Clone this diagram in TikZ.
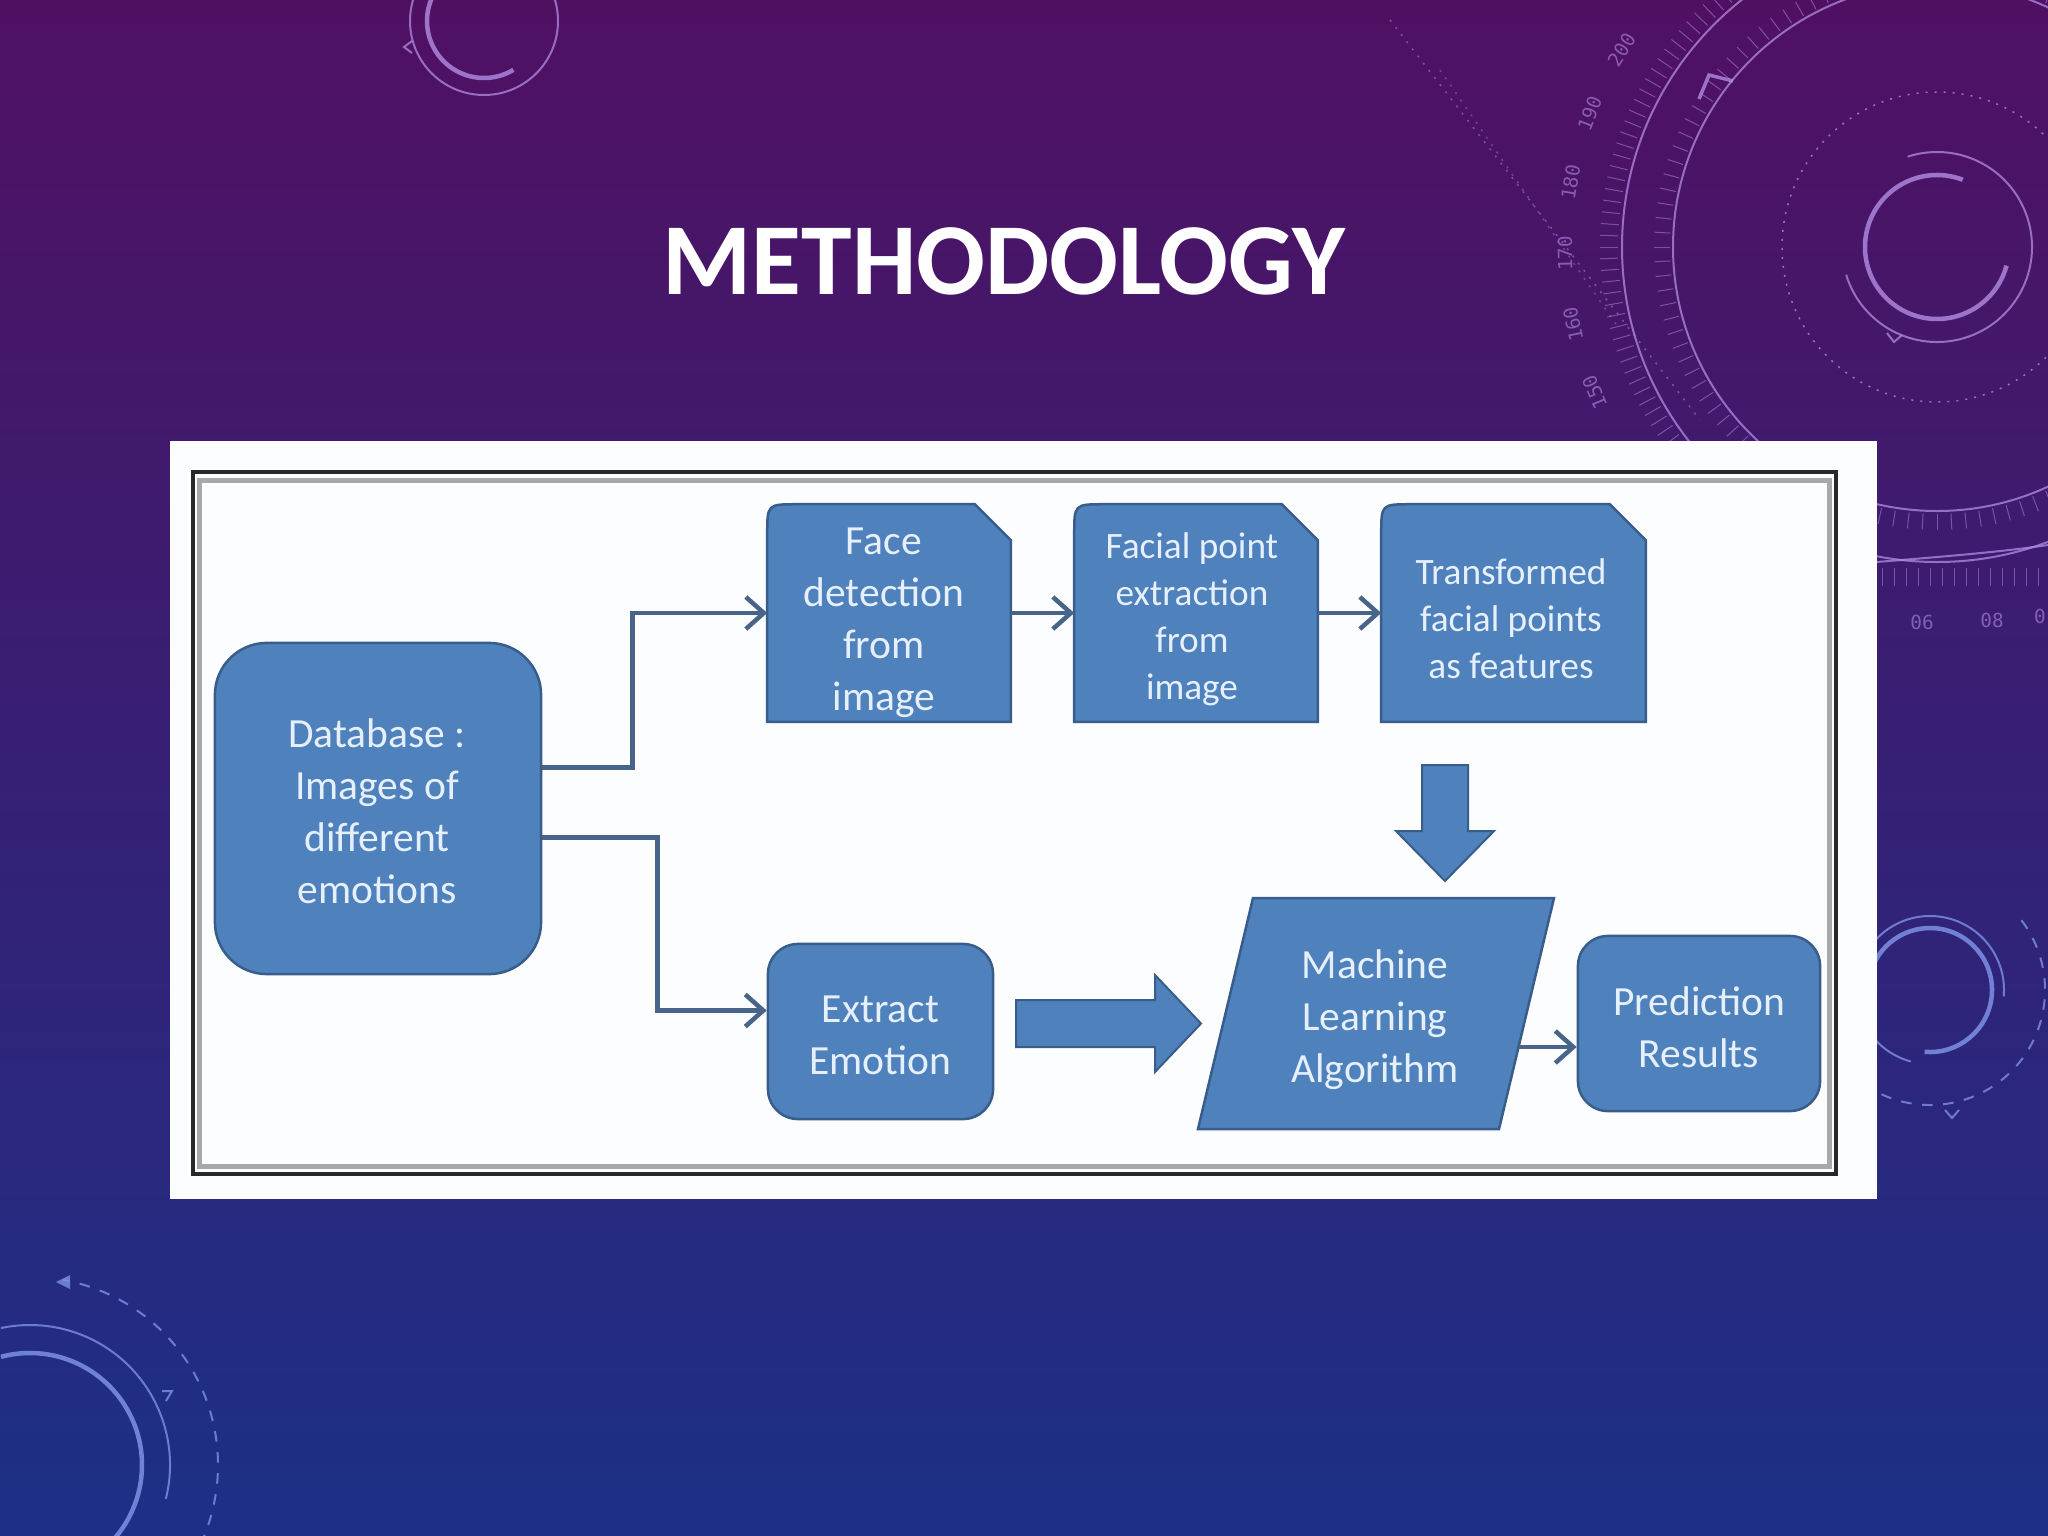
\documentclass[tikz,border=0pt]{standalone}
\usepackage{fontspec}
\setmainfont{Carlito}
\newfontfamily\numfont{DejaVu Sans Mono}
\usetikzlibrary{arrows.meta,calc}

\definecolor{bgA}{RGB}{80,16,98}
\definecolor{bgB}{RGB}{54,28,112}
\definecolor{bgC}{RGB}{28,48,135}
\definecolor{boxfill}{RGB}{79,129,189}
\definecolor{boxline}{RGB}{56,93,138}
\definecolor{boxtext}{RGB}{230,239,252}
\definecolor{conncol}{RGB}{72,100,136}
\definecolor{deco}{RGB}{178,140,228}
\definecolor{decob}{RGB}{125,145,230}
\definecolor{frameA}{RGB}{40,40,40}
\definecolor{frameB}{RGB}{165,168,172}
\definecolor{panel}{RGB}{252,253,255}

\newcommand\snipbox[1]{%
  \draw[box] (#1.south west) -- (#1.south east) -- ($(#1.north east)+(0,36)$)
    -- ($(#1.north east)+(-36,0)$) -- ($(#1.north west)+(30,0)$)
    .. controls (#1.north west) .. ($(#1.north west)+(0,30)$) -- cycle;}

\begin{document}
\begin{tikzpicture}[x=0.01cm,y=-0.01cm,
  box/.style={fill=boxfill, draw=boxline, line width=0.025cm},
  boxtxt/.style={text=boxtext, align=center, font=\fontsize{11.8}{14.8}\selectfont, inner sep=0pt},
  smalltxt/.style={text=boxtext, align=center, font=\fontsize{10.6}{13.4}\selectfont, inner sep=0pt},
  holder/.style={inner sep=0pt, minimum height=2.16cm},
  conn/.style={draw=conncol, line width=0.045cm, -{Straight Barb[length=0.18cm,width=0.32cm]}},
  blockarrow/.style={fill=boxfill, draw=boxline, line width=0.02cm},
  decoline/.style={draw=deco, line width=0.02cm, opacity=0.75},
  decothick/.style={draw=deco, line width=0.045cm, opacity=0.8},
  decobl/.style={draw=decob, line width=0.02cm, opacity=0.8},
  decobthick/.style={draw=decob, line width=0.045cm, opacity=0.85},
  numtxt/.style={text=deco, opacity=0.6, font=\numfont\fontsize{5.5}{6}\selectfont, inner sep=0pt},
]
\useasboundingbox (0,0) rectangle (2048,1536);
\clip (0,0) rectangle (2048,1536);
\shade[top color=bgA, middle color=bgB, bottom color=bgC] (0,0) rectangle (2048,1536);

% ---- decorations: top right dial
\begin{scope}[shift={(1937,247)}, yscale=-1]
  \draw[decoline] (0,0) circle[radius=315];
  \draw[decoline] (0,0) circle[radius=264];
  \foreach \a in {0,3,...,357} \draw[decoline, line width=0.01cm, opacity=0.5] (\a:267) -- (\a:283);
  \foreach \a in {126,128,...,232} \draw[decoline, line width=0.01cm, opacity=0.5] (\a:319) -- (\a:337);
  \foreach \n/\a in {150/203,160/192,170/181,180/170,190/159,200/148}
    \node[numtxt, rotate=\a-90] (num\n) at (\a:372) {\n};
  \draw[decoline, dotted, line width=0.015cm] (0,0) circle[radius=155];
  \draw[decothick] (69:72) arc[start angle=69, end angle=345, radius=72];
  \draw[decoline] (-163:95) arc[start angle=-163, end angle=108, radius=95];
  \draw[decothick, line width=0.035cm] (-238,148) -- (-228,172) -- (-204,166);
  \draw[decoline] (-50,-86) -- (-43,-95) -- (-35,-88);
\end{scope}
\draw[decoline, dotted, line width=0.015cm, opacity=0.5] (1390,20) -- (1700,420);
\draw[decoline, dotted, line width=0.015cm, opacity=0.4] (1440,70) -- (1620,330);
% tick ring at right
\draw[decoline] (1877,562) .. controls (1950,556) and (2000,552) .. (2048,545);
\foreach \x in {1882,1894,...,2046} \draw[decoline, line width=0.01cm, opacity=0.5] (\x,568) -- (\x,586);
\node[numtxt] (numA) at (1922,622) {06};
\node[numtxt] (numB) at (1992,620) {08};
\node[numtxt] (numC) at (2040,616) {0};

% ---- top left circle
\begin{scope}[shift={(484,21)}, yscale=-1]
  \draw[decoline] (0,0) circle[radius=74];
  \draw[decothick] (100:57) arc[start angle=100, end angle=301, radius=57];
  \draw[decoline] (-72,-20) -- (-80,-26) -- (-72,-32);
\end{scope}

% ---- right middle circles
\begin{scope}[shift={(1930,990)}, yscale=-1]
  \draw[decobthick] (-95:62) arc[start angle=-95, end angle=160, radius=62];
  \draw[decobl] (-5:74) arc[start angle=-5, end angle=255, radius=74];
  \draw[decobl, dashed] (-115:115) arc[start angle=-115, end angle=40, radius=115];
  \draw[decobl] (15,-120) -- (22,-128) -- (29,-120);
\end{scope}

% ---- bottom left circles
\begin{scope}[shift={(30,1465)}, yscale=-1]
  \draw[decobthick] (-60:112) arc[start angle=-60, end angle=105, radius=112];
  \draw[decobl] (-14:140) arc[start angle=-14, end angle=102, radius=140];
  \draw[decobl, dashed] (-25:188) arc[start angle=-25, end angle=80, radius=188];
  \fill[decob, opacity=0.8] (26,183) -- (40,190) -- (40,176) -- cycle;
  \draw[decobl] (132,74) -- (142,74) -- (136,64);
\end{scope}

% ---- title
\node[text=white, font=\fontsize{29}{34}\selectfont\bfseries, anchor=base, inner sep=0pt] (title) at (1004,294) {METHODOLOGY};

% ---- panel and frame
\fill[panel] (170,441) rectangle (1877,1199);
\draw[frameB, line width=0.05cm] (199,480) rectangle (1829,1166);
\draw[frameA, line width=0.035cm] (193,472) rectangle (1836,1174);

% ---- nodes
\node[box, rounded corners=0.52cm, minimum width=3.26cm, minimum height=3.31cm] (db) at (378,808.5) {};
\node[boxtxt] (dbtxt) at (377,811) {Database :\\Images of\\different\\emotions};

\node[holder, minimum width=2.42cm] (face) at (889,613) {};
\snipbox{face}
\node[boxtxt] (facetxt) at (884,623) {Face\\detection\\from\\image};

\node[holder, minimum width=2.42cm] (facial) at (1196,613) {};
\snipbox{facial}
\node[smalltxt] (facialtxt) at (1192,619) {Facial point\\extraction\\from\\image};

\node[holder, minimum width=2.63cm] (trans) at (1513.5,613) {};
\snipbox{trans}
\node[smalltxt] (transtxt) at (1511,619) {Transformed\\facial points\\as features};

\node[box, rounded corners=0.3cm, minimum width=2.25cm, minimum height=1.75cm] (ex) at (880.5,1031.5) {};
\node[boxtxt] (extxt) at (880.5,1035) {Extract\\Emotion};

\coordinate (mlTL) at (1253,898);
\coordinate (mlTR) at (1554,898);
\coordinate (mlBR) at (1499,1129);
\coordinate (mlBL) at (1198,1129);
\draw[box] (mlTL) -- (mlTR) -- (mlBR) -- (mlBL) -- cycle;
\node[boxtxt] (ml) at (1375,1020) {Machine\\Learning\\Algorithm};

\node[box, rounded corners=0.3cm, minimum width=2.42cm, minimum height=1.75cm] (pred) at (1699,1023.5) {};
\node[boxtxt] (predtxt) at (1699,1027) {Prediction\\Results};

% ---- block arrows
\draw[blockarrow] (1422,765) -- (1468,765) -- (1468,831) -- (1494,831) -- (1445,881)
  -- (1396,831) -- (1422,831) -- cycle;
\draw[blockarrow] (1016,1000) -- (1155,1000) -- (1155,975) -- (1201,1023.5) -- (1155,1072)
  -- (1155,1047) -- (1016,1047) -- cycle;

% ---- connectors
\draw[conn] ($(db.east)+(0,-41)$) -- ++(90,0) |- (face.west);
\draw[conn] ($(db.east)+(0,29)$) -- ++(115,0) |- ($(ex.west)+(0,-21)$);
\draw[conn] (face.east) -- (facial.west);
\draw[conn] (facial.east) -- (trans.west);
\coordinate (mlr) at ($(mlTR)!0.645!(mlBR)$);
\draw[conn] (mlr) -- (mlr -| pred.west);
\end{tikzpicture}
\end{document}
